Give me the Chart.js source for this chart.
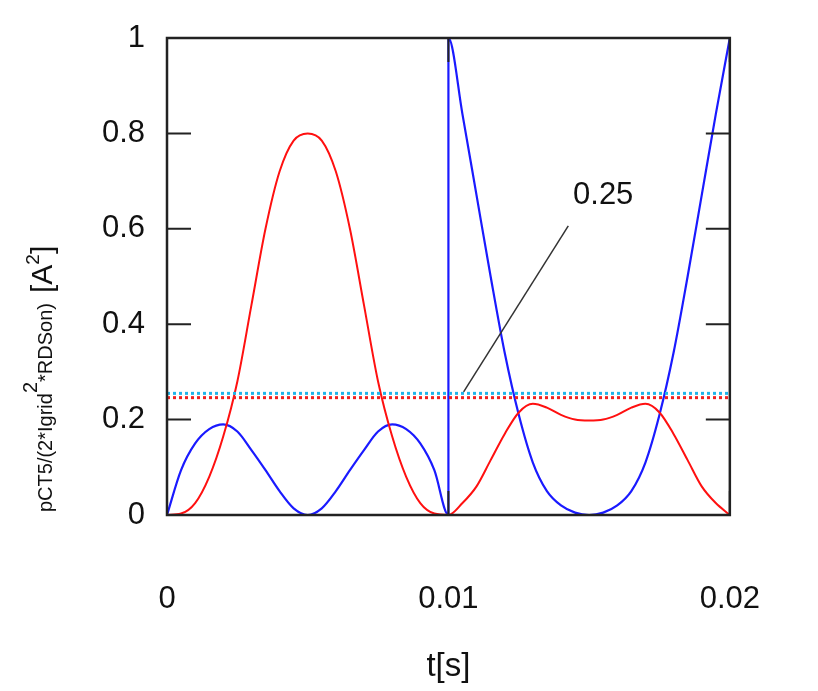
<!DOCTYPE html>
<html>
<head>
<meta charset="utf-8">
<script src="https://cdn.jsdelivr.net/npm/chart.js@4"></script>
<style>
  body { margin: 0; background: #fff; }
  #wrap { width: 818px; height: 691px; }
</style>
</head>
<body>
<div id="wrap"><canvas id="c"></canvas></div>
<script>
// temps (s) et valeurs
const tPremier = [0, 0.0005, 0.001, 0.0015, 0.002, 0.0025, 0.003, 0.0035, 0.004, 0.0045, 0.005,
  0.0055, 0.006, 0.0065, 0.007, 0.0075, 0.008, 0.0085, 0.009, 0.0095, 0.01];
const bleuPremier = [0, 0.094, 0.15, 0.18, 0.19, 0.175, 0.136, 0.094, 0.05, 0.014, 0,
  0.014, 0.05, 0.094, 0.136, 0.175, 0.19, 0.18, 0.15, 0.094, 0];
const rougePremier = [0, 0.003, 0.025, 0.08, 0.165, 0.28, 0.44, 0.6, 0.72, 0.785, 0.8,
  0.785, 0.72, 0.6, 0.44, 0.28, 0.165, 0.08, 0.025, 0.003, 0];
const tSecond = [0.01, 0.0105, 0.011, 0.0115, 0.012, 0.0125, 0.013, 0.0135, 0.014, 0.0145, 0.015,
  0.0155, 0.016, 0.0165, 0.017, 0.0175, 0.018, 0.0185, 0.019, 0.0195, 0.02];
const bleuSecond = [1, 0.84, 0.67, 0.5, 0.34, 0.21, 0.11, 0.05, 0.02, 0.005, 0,
  0.005, 0.02, 0.05, 0.11, 0.21, 0.34, 0.5, 0.67, 0.84, 1];
const rougeSecond = [0, 0.025, 0.06, 0.115, 0.17, 0.215, 0.233, 0.225, 0.21, 0.2, 0.198,
  0.2, 0.21, 0.225, 0.233, 0.215, 0.17, 0.115, 0.06, 0.025, 0];
const moyenneBleu = 0.255;
const moyenneRouge = 0.246;
const xTicks = [0, 0.01, 0.02];
const yTicks = [0, 0.2, 0.4, 0.6, 0.8, 1];
const etiquette = "0.25";

const pts = (ts, vs) => ts.map((t, i) => ({ x: t, y: vs[i] }));
const bleu = pts(tPremier, bleuPremier).concat(pts(tSecond, bleuSecond));
const rouge = pts(tPremier, rougePremier).concat(pts(tSecond, rougeSecond).slice(1));
const ligne = (v) => [{ x: 0, y: v }, { x: 0.02, y: v }];
const police = "'Liberation Sans', Arial";

// cadre, graduations, titre Y et annotation
const decor = {
  id: "decor",
  afterDraw(chart) {
    const { ctx, chartArea: a, scales: { x, y } } = chart;
    ctx.save();
    ctx.strokeStyle = "#222";
    ctx.lineWidth = 2.5;
    ctx.strokeRect(a.left, a.top, a.right - a.left, a.bottom - a.top);
    ctx.lineWidth = 2;
    yTicks.forEach(v => {
      const py = y.getPixelForValue(v);
      ctx.beginPath();
      ctx.moveTo(a.left, py); ctx.lineTo(a.left + 24, py);
      ctx.moveTo(a.right, py); ctx.lineTo(a.right - 24, py);
      ctx.stroke();
    });
    xTicks.forEach(v => {
      const px = x.getPixelForValue(v);
      ctx.beginPath();
      ctx.moveTo(px, a.bottom); ctx.lineTo(px, a.bottom - 24);
      ctx.moveTo(px, a.top); ctx.lineTo(px, a.top + 24);
      ctx.stroke();
    });
    // annotation 0.25
    ctx.strokeStyle = "#333";
    ctx.lineWidth = 1.5;
    ctx.beginPath();
    ctx.moveTo(x.getPixelForValue(0.01054), y.getPixelForValue(0.258));
    ctx.lineTo(x.getPixelForValue(0.01426), y.getPixelForValue(0.606));
    ctx.stroke();
    ctx.fillStyle = "#111";
    ctx.font = "31px " + police;
    ctx.textAlign = "center";
    ctx.textBaseline = "middle";
    ctx.fillText(etiquette, x.getPixelForValue(0.0155), y.getPixelForValue(0.67));
    // titre de l'axe Y
    ctx.translate(52, 512);
    ctx.rotate(-Math.PI / 2);
    ctx.textAlign = "left";
    ctx.textBaseline = "alphabetic";
    let cx = 0;
    const part = (txt, size, dy) => {
      ctx.font = size + "px " + police;
      ctx.fillText(txt, cx, dy);
      cx += ctx.measureText(txt).width;
    };
    part("pCT5/(2*Igrid", 20, 0);
    part("2", 20, -15);
    part("*RDSon)", 20, 0);
    cx += 10;
    part("[A", 30, 0);
    part("2", 19, -13);
    part("]", 30, 0);
    ctx.restore();
  }
};

new Chart(document.getElementById("c"), {
  type: "line",
  data: {
    datasets: [
      { data: ligne(moyenneBleu), borderColor: "#1fb4ea", borderWidth: 3, borderDash: [3, 3], pointRadius: 0 },
      { data: ligne(moyenneRouge), borderColor: "#f02020", borderWidth: 3, borderDash: [3, 3], pointRadius: 0 },
      { data: rouge, borderColor: "#ff1010", borderWidth: 2, pointRadius: 0, cubicInterpolationMode: "monotone" },
      { data: bleu, borderColor: "#1a1aff", borderWidth: 2.2, pointRadius: 0, cubicInterpolationMode: "monotone" }
    ]
  },
  options: {
    responsive: true,
    maintainAspectRatio: false,
    animation: false,
    layout: { padding: { top: 38, right: 64 } },
    plugins: { legend: { display: false }, tooltip: { enabled: false } },
    scales: {
      x: {
        type: "linear", min: 0, max: 0.02,
        afterBuildTicks: s => { s.ticks = xTicks.map(v => ({ value: v })); },
        afterFit: s => { s.height = 176; },
        grid: { display: false },
        border: { display: false },
        ticks: { color: "#111", padding: 58, font: { size: 31, family: police },
          callback: v => String(v) },
        title: { display: true, text: "t[s]", color: "#111", padding: { top: 10 },
          font: { size: 33, family: police } }
      },
      y: {
        min: 0, max: 1,
        afterBuildTicks: s => { s.ticks = yTicks.map(v => ({ value: v })); },
        afterFit: s => { s.width = 167; },
        grid: { display: false },
        border: { display: false },
        ticks: { color: "#111", padding: 14, font: { size: 31, family: police },
          callback: v => String(v) }
      }
    }
  },
  plugins: [decor]
});
</script>
</body>
</html>
